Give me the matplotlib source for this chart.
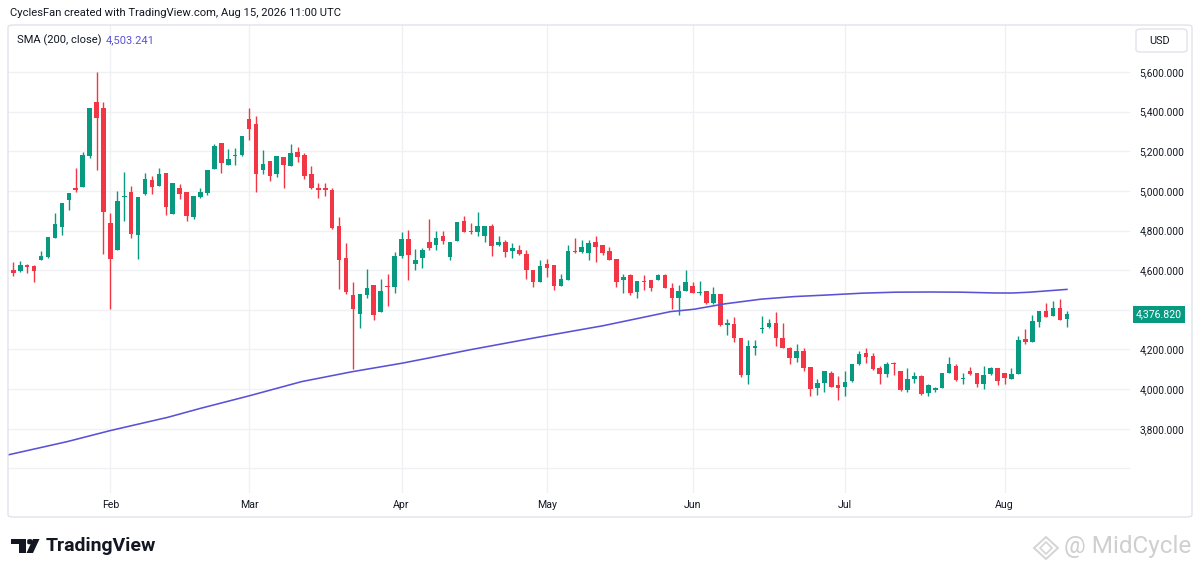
import matplotlib
matplotlib.use("Agg")
import matplotlib.pyplot as plt
import matplotlib.transforms as mtransforms
from matplotlib.patches import FancyBboxPatch, Polygon
import numpy as np
import pandas as pd

# ---------------- data ----------------
opens = [4601, 4596, 4626, 4619, 4651, 4668, 4760, 4818, 4952, 5016,
         5019, 5178, 5449, 5418, 4838, 4701, 4967, 4994, 4776, 4986,
         5053, 5025, 5092, 4883, 5016, 4996, 4866, 4970, 4991, 5113,
         5242, 5130, 5175, 5179, 5364, 5339, 5105, 5152, 5083, 5172,
         5125, 5198, 5180, 5083, 5013, 5013, 5005, 4824, 4660, 4475,
         4380, 4475, 4525, 4387, 4520, 4517, 4672, 4758, 4633, 4662,
         4742, 4725, 4775, 4667, 4745, 4850, 4800, 4792, 4775, 4825,
         4725, 4742, 4697, 4700, 4683, 4600, 4542, 4633, 4628, 4520,
         4550, 4695, 4692, 4688, 4742, 4725, 4695, 4658, 4550, 4575,
         4488, 4545, 4550, 4550, 4575, 4508, 4458, 4497, 4522, 4486,
         4495, 4433, 4478, 4323, 4327, 4256, 4069, 4210, 4303, 4312,
         4332, 4260, 4206, 4156, 4194, 4114, 4005, 4030, 4080, 4022,
         4013, 4039, 4126, 4181, 4169, 4106, 4075, 4131, 4092, 3997,
         4052, 4064, 3980, 3997, 4008, 4080, 4119, 4052, 4089, 4080,
         4025, 4075, 4109, 4080, 4052, 4075, 4253, 4236, 4340, 4394,
         4370, 4407, 4352]
highs = [4639, 4646, 4629, 4626, 4696, 4768, 4890, 4940, 4989, 5116,
         5195, 5418, 5600, 5451, 4889, 4999, 5094, 5024, 4969, 5091,
         5075, 5117, 5092, 5042, 5033, 4996, 4975, 5016, 5105, 5237,
         5242, 5212, 5217, 5279, 5418, 5379, 5205, 5152, 5175, 5172,
         5239, 5224, 5189, 5125, 5042, 5042, 5017, 4866, 4735, 4542,
         4480, 4608, 4525, 4558, 4583, 4692, 4795, 4803, 4708, 4712,
         4858, 4800, 4797, 4742, 4845, 4872, 4838, 4892, 4825, 4833,
         4772, 4750, 4737, 4725, 4700, 4600, 4650, 4658, 4628, 4583,
         4725, 4762, 4750, 4750, 4772, 4725, 4717, 4658, 4583, 4583,
         4545, 4575, 4550, 4583, 4583, 4533, 4525, 4600, 4542, 4545,
         4495, 4516, 4478, 4354, 4365, 4256, 4248, 4248, 4370, 4354,
         4387, 4332, 4215, 4226, 4206, 4114, 4052, 4092, 4089, 4064,
         4089, 4126, 4193, 4206, 4181, 4119, 4136, 4139, 4092, 4106,
         4085, 4069, 4025, 4013, 4080, 4164, 4126, 4080, 4114, 4080,
         4119, 4114, 4109, 4080, 4106, 4270, 4303, 4374, 4394, 4437,
         4444, 4454, 4394]
lows = [4572, 4593, 4584, 4542, 4651, 4664, 4760, 4776, 4905, 4994,
        5019, 5166, 5103, 4681, 4405, 4701, 4848, 4760, 4659, 4978,
        4983, 5025, 4878, 4883, 4961, 4846, 4858, 4963, 4978, 5113,
        5092, 5130, 5130, 5175, 5259, 4996, 5083, 5050, 5070, 5013,
        5125, 5148, 5058, 5008, 4966, 4975, 4807, 4507, 4479, 4100,
        4308, 4462, 4350, 4387, 4417, 4483, 4662, 4553, 4603, 4612,
        4700, 4700, 4733, 4650, 4745, 4792, 4783, 4775, 4742, 4672,
        4722, 4667, 4663, 4675, 4558, 4517, 4542, 4567, 4500, 4520,
        4550, 4688, 4688, 4650, 4642, 4675, 4650, 4517, 4483, 4475,
        4458, 4500, 4495, 4550, 4508, 4405, 4375, 4497, 4483, 4474,
        4428, 4428, 4318, 4273, 4240, 4060, 4027, 4173, 4282, 4307,
        4220, 4206, 4126, 4139, 4092, 3963, 3968, 3988, 4013, 3946,
        3963, 4035, 4122, 4131, 4097, 4025, 4059, 4072, 3992, 3988,
        4030, 3972, 3963, 3988, 4005, 4080, 4042, 4025, 4072, 4013,
        4002, 4072, 4022, 4025, 4052, 4075, 4226, 4236, 4315, 4365,
        4370, 4349, 4315]
closes = [4584, 4626, 4618, 4596, 4673, 4765, 4832, 4940, 4989, 5007,
          5183, 5418, 5369, 4894, 4659, 4949, 4972, 4785, 4969, 5058,
          5021, 5083, 4919, 5042, 4986, 4871, 4975, 4995, 5105, 5225,
          5142, 5162, 5182, 5276, 5314, 5087, 5138, 5075, 5175, 5130,
          5192, 5170, 5075, 5016, 5005, 5005, 4811, 4649, 4489, 4405,
          4480, 4508, 4375, 4497, 4515, 4672, 4758, 4675, 4653, 4703,
          4713, 4762, 4747, 4742, 4845, 4792, 4792, 4825, 4825, 4722,
          4742, 4692, 4713, 4680, 4600, 4542, 4622, 4613, 4522, 4558,
          4695, 4690, 4717, 4737, 4717, 4688, 4650, 4542, 4567, 4483,
          4545, 4542, 4508, 4575, 4508, 4458, 4497, 4542, 4487, 4491,
          4433, 4478, 4323, 4332, 4256, 4069, 4220, 4220, 4310, 4332,
          4260, 4206, 4156, 4194, 4109, 4002, 4030, 4092, 4013, 4005,
          4035, 4126, 4176, 4164, 4102, 4075, 4126, 4126, 3997, 4052,
          4064, 3975, 4022, 4008, 4080, 4126, 4047, 4055, 4075, 4025,
          4069, 4106, 4042, 4055, 4075, 4248, 4240, 4344, 4394, 4365,
          4411, 4349, 4376.82]

# trading days (weekdays, minus two market holidays)
holidays = ["2026-01-19", "2026-04-03"]
all_days = pd.bdate_range("2026-01-12", "2026-08-14")
dates = all_days[~all_days.isin(pd.to_datetime(holidays))][:len(closes)]

# SMA(200): bar position -> value
sma_pos = [-0.8, 7.75, 14.0, 22.3, 27.1, 34.0, 41.6, 48.9, 56.1, 60.5,
           65.8, 75.4, 85.1, 94.8, 98.2, 102.6, 107.9, 112.7, 117.5, 122.4,
           127.2, 132.1, 136.9, 141.7, 144.2, 146.6, 152]
sma_val = [3668, 3735, 3791, 3858, 3904, 3966, 4038, 4088, 4131, 4161,
           4198, 4260, 4320, 4391, 4403, 4430, 4454, 4467, 4475, 4484,
           4489, 4490, 4489, 4485, 4485, 4489, 4503.241]

price_ticks = [3800, 4000, 4200, 4400, 4600, 4800, 5000, 5200, 5400, 5600]
grid_levels = [3600] + price_ticks
last_price = 4376.82
sma_last = 4503.241

header = "CyclesFan created with TradingView.com, Aug 15, 2026 11:00 UTC"

# ---------------- styling ----------------
GREEN = "#089981"
RED = "#F23645"
SMA_C = "#5a52d6"
GRID = "#f0f1f4"
TXT = "#131722"
plt.rcParams["font.family"] = ["Roboto", "DejaVu Sans"]

W, H = 1200, 574
fig = plt.figure(figsize=(12, 5.74), dpi=100, facecolor="white")


def fx(px):
    return px / W


def fy(py):
    return 1 - py / H


ax = fig.add_axes([fx(8), fy(493), fx(1130) - fx(8), fy(25) - fy(493)])
ax.set_facecolor("white")

o = np.array(opens, float)
h = np.array(highs, float)
l = np.array(lows, float)
c = np.array(closes, float)
x = np.arange(len(c))
up = c >= o
cols = np.where(up, GREEN, RED)

# grid
for lv in grid_levels:
    ax.axhline(lv, color=GRID, lw=1, zorder=0)

month_pos, month_lab = [], []
for i in range(1, len(dates)):
    if dates[i].month != dates[i - 1].month:
        month_pos.append(i)
        month_lab.append(dates[i].strftime("%b"))
for p in month_pos:
    ax.axvline(p, color=GRID, lw=1, zorder=0)

# candles
ax.vlines(x, l, h, colors=cols, linewidth=1.0, zorder=2)
body_b = np.minimum(o, c)
body_h = np.maximum(np.abs(c - o), 5)
ax.bar(x, body_h, bottom=body_b, width=0.66, color=cols, linewidth=0, zorder=3)

# SMA
ax.plot(sma_pos, sma_val, color=SMA_C, lw=1.15, zorder=4)

ax.set_xlim(-0.77, 161.1)
ax.set_ylim(3476, 5837)

for s in ax.spines.values():
    s.set_visible(False)

ax.set_xticks(month_pos)
ax.set_xticklabels(month_lab)
ax.tick_params(axis="x", length=0, pad=5, labelsize=7.6, labelcolor=TXT)

ax.yaxis.tick_right()
ax.set_yticks(price_ticks)
ax.set_yticklabels([f"{v:,.3f}" for v in price_ticks])
ax.tick_params(axis="y", length=0, pad=7, labelsize=7.3, labelcolor=TXT)

# last price tag (covers most of the 4,400 label, as in the reference)
trans = mtransforms.blended_transform_factory(ax.transAxes, ax.transData)
ax.text(1.0 + 6 / 1122, last_price, f"{last_price:,.3f}", transform=trans,
        ha="left", va="center", color="white", fontsize=7.6, zorder=10,
        clip_on=False,
        bbox=dict(boxstyle="square,pad=0.3", fc=GREEN, ec="none"))

# frame
fig.patches.append(FancyBboxPatch((fx(8), fy(517)), fx(1192) - fx(8), fy(25) - fy(517),
                                  boxstyle="round,pad=0,rounding_size=0.004",
                                  transform=fig.transFigure, fill=False,
                                  ec="#e0e3eb", lw=1))
# USD box
fig.patches.append(FancyBboxPatch((fx(1136), fy(52)), fx(1187) - fx(1136), fy(29) - fy(52),
                                  boxstyle="round,pad=0,rounding_size=0.004",
                                  transform=fig.transFigure, fc="white",
                                  ec="#e0e3eb", lw=1))
fig.text(fx(1149), fy(41), "USD", ha="left", va="center", fontsize=7.8, color=TXT)

# header and legend
fig.text(fx(10), fy(13), header, ha="left", va="center", fontsize=8.1, color=TXT)
fig.text(fx(17), fy(40), "SMA (200, close)", ha="left", va="center", fontsize=8.0, color=TXT)
fig.text(fx(106), fy(40), f"{sma_last:,.3f}", ha="left", va="center", fontsize=8.0, color=SMA_C)


# TradingView logo
def P(px, py):
    return (fx(px), fy(py))


fig.patches.append(Polygon([P(11, 539), P(26, 539), P(26, 553), P(18.5, 553),
                            P(18.5, 544), P(11, 544)], closed=True,
                           transform=fig.transFigure, fc="#131722", ec="none"))
fig.patches.append(Polygon([P(33, 539), P(39.5, 539), P(33, 553), P(26.5, 553)],
                           closed=True, transform=fig.transFigure, fc="#131722", ec="none"))
fig.patches.append(FancyBboxPatch(P(27.2, 544.3), fx(5.2), fx(5.2) * W / H,
                                  boxstyle="round,pad=0,rounding_size=0.0021",
                                  transform=fig.transFigure, fc="#131722", ec="none"))
fig.text(fx(46), fy(546), "TradingView", ha="left", va="center", fontsize=14,
         fontweight="bold", color="#131722")

# watermark
fig.patches.append(Polygon([P(1046, 537), P(1058, 548), P(1046, 559), P(1034, 548)],
                           closed=True, transform=fig.transFigure, fill=False,
                           ec="#d4d4d4", lw=1.4))
fig.patches.append(Polygon([P(1046, 542), P(1052, 548), P(1046, 554), P(1040, 548)],
                           closed=True, transform=fig.transFigure, fill=False,
                           ec="#d4d4d4", lw=1.2))
fig.text(fx(1064), fy(547), "@ MidCycle", ha="left", va="center", fontsize=17.5,
         color="#cfcfcf")

fig.savefig("out.png", dpi=100, facecolor="white")
